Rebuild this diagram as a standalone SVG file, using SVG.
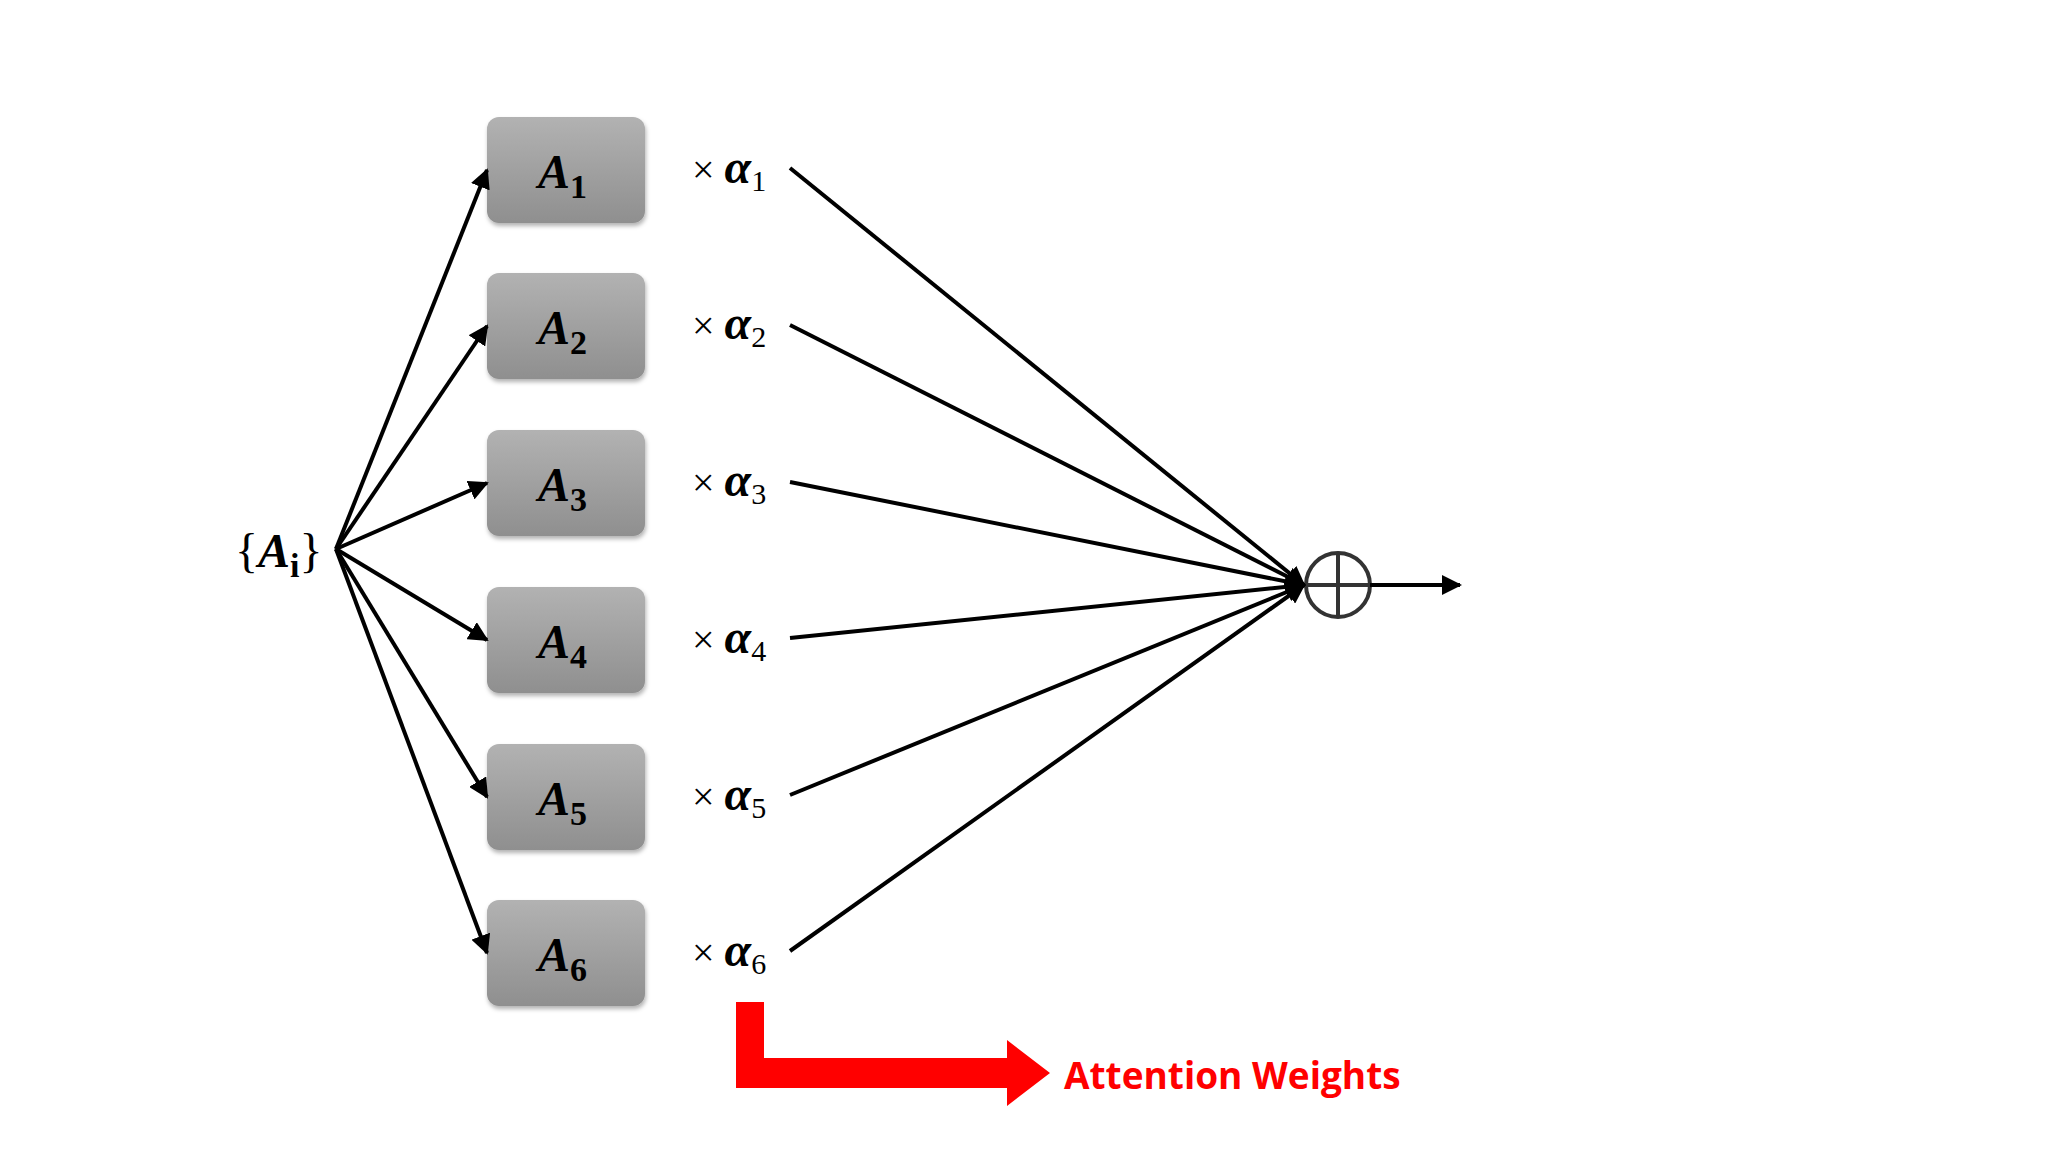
<svg xmlns="http://www.w3.org/2000/svg" width="2048" height="1152" viewBox="0 0 2048 1152">
<defs>
<linearGradient id="g" x1="0" y1="0" x2="0" y2="1"><stop offset="0" stop-color="#b2b2b2"/><stop offset="1" stop-color="#8f8f8f"/></linearGradient>
<filter id="sh" x="-10%" y="-10%" width="130%" height="130%"><feDropShadow dx="1" dy="3" stdDeviation="2" flood-color="#000" flood-opacity="0.3"/></filter>
<marker id="ar" viewBox="0 0 10 10" refX="9" refY="5" markerWidth="5" markerHeight="5" orient="auto"><path d="M0,0 L10,5 L0,10 z" fill="#000"/></marker>
<style>
.box{fill:url(#g);filter:url(#sh)}
.m{font-family:"Liberation Serif",serif;font-style:italic;font-weight:bold;font-size:48px;fill:#000}
.sub{font-style:normal;font-size:34px}
.w{font-family:"Liberation Serif",serif;font-size:40px;fill:#000}
.c{stroke:#000;stroke-width:4;fill:none}
</style>
</defs>
<rect width="2048" height="1152" fill="#fff"/>
<g id="input"><text x="235" y="567" class="m"><tspan font-style="normal" font-weight="normal">{</tspan>A<tspan class="sub" font-style="italic" dy="10">i</tspan><tspan font-style="normal" font-weight="normal" dy="-10">}</tspan></text></g>
<g id="A1"><rect class="box" x="487" y="117" width="158" height="106" rx="12"/><text class="m" x="538" y="188">A<tspan class="sub" dy="10">1</tspan></text></g>
<g id="A2"><rect class="box" x="487" y="273" width="158" height="106" rx="12"/><text class="m" x="538" y="344">A<tspan class="sub" dy="10">2</tspan></text></g>
<g id="A3"><rect class="box" x="487" y="430" width="158" height="106" rx="12"/><text class="m" x="538" y="501">A<tspan class="sub" dy="10">3</tspan></text></g>
<g id="A4"><rect class="box" x="487" y="587" width="158" height="106" rx="12"/><text class="m" x="538" y="658">A<tspan class="sub" dy="10">4</tspan></text></g>
<g id="A5"><rect class="box" x="487" y="744" width="158" height="106" rx="12"/><text class="m" x="538" y="815">A<tspan class="sub" dy="10">5</tspan></text></g>
<g id="A6"><rect class="box" x="487" y="900" width="158" height="106" rx="12"/><text class="m" x="538" y="971">A<tspan class="sub" dy="10">6</tspan></text></g>
<g id="weights" class="w">
<text x="692" y="183">× <tspan class="m" font-size="44">α</tspan><tspan font-size="30" dy="8">1</tspan></text>
<text x="692" y="339">× <tspan class="m" font-size="44">α</tspan><tspan font-size="30" dy="8">2</tspan></text>
<text x="692" y="496">× <tspan class="m" font-size="44">α</tspan><tspan font-size="30" dy="8">3</tspan></text>
<text x="692" y="653">× <tspan class="m" font-size="44">α</tspan><tspan font-size="30" dy="8">4</tspan></text>
<text x="692" y="810">× <tspan class="m" font-size="44">α</tspan><tspan font-size="30" dy="8">5</tspan></text>
<text x="692" y="966">× <tspan class="m" font-size="44">α</tspan><tspan font-size="30" dy="8">6</tspan></text>
</g>
<g id="sum"><circle cx="1338" cy="585" r="32" fill="none" stroke="#333" stroke-width="4"/><line x1="1338" y1="553" x2="1338" y2="617" stroke="#333" stroke-width="4"/><line x1="1306" y1="585" x2="1370" y2="585" stroke="#333" stroke-width="4"/></g>
<g id="connectors">
<line class="c" x1="336" y1="549" x2="487" y2="170" marker-end="url(#ar)"/>
<line class="c" x1="336" y1="549" x2="487" y2="326" marker-end="url(#ar)"/>
<line class="c" x1="336" y1="549" x2="487" y2="483" marker-end="url(#ar)"/>
<line class="c" x1="336" y1="549" x2="487" y2="640" marker-end="url(#ar)"/>
<line class="c" x1="336" y1="549" x2="487" y2="797" marker-end="url(#ar)"/>
<line class="c" x1="336" y1="549" x2="487" y2="953" marker-end="url(#ar)"/>
<line class="c" x1="790" y1="168" x2="1304" y2="585" marker-end="url(#ar)"/>
<line class="c" x1="790" y1="325" x2="1304" y2="585" marker-end="url(#ar)"/>
<line class="c" x1="790" y1="482" x2="1304" y2="585" marker-end="url(#ar)"/>
<line class="c" x1="790" y1="638" x2="1304" y2="585" marker-end="url(#ar)"/>
<line class="c" x1="790" y1="795" x2="1304" y2="585" marker-end="url(#ar)"/>
<line class="c" x1="790" y1="951" x2="1304" y2="585" marker-end="url(#ar)"/>
<line class="c" x1="1370" y1="585" x2="1460" y2="585" stroke-width="3" marker-end="url(#ar)"/>
</g>
<g id="attention">
<path d="M736,1002 H764 V1058 H1007 V1040 L1050,1073 L1007,1106 V1088 H736 Z" fill="#ff0000"/>
<text x="1064" y="1089" font-family="Open Sans, sans-serif" font-weight="bold" font-size="37" fill="#ff0000">Attention Weights</text>
</g>
</svg>
